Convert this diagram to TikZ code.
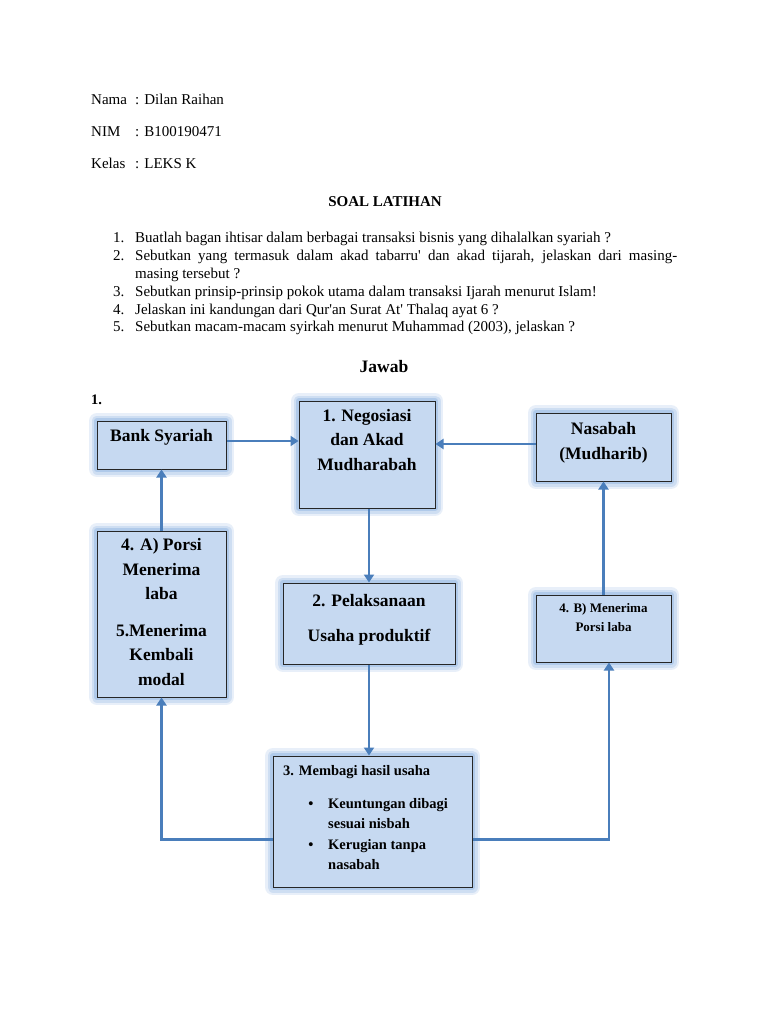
\documentclass[tikz,border=0pt]{standalone}
\usepackage{fontspec}
\setmainfont{Liberation Serif}
\newfontfamily\straightq{Liberation Serif}
\usetikzlibrary{arrows.meta,calc}
\definecolor{boxfill}{HTML}{C6D9F1}
\definecolor{arrowc}{HTML}{4A7EBB}
\definecolor{glowc}{HTML}{8DB3E2}
\tikzset{
  box/.style={draw=black!85, line width=1pt, fill=boxfill, inner sep=0pt,
    preaction={draw=glowc, line width=16pt, opacity=0.2, line join=round},
    preaction={draw=glowc, line width=11pt, opacity=0.28, line join=round},
    preaction={draw=glowc, line width=6pt, opacity=0.45, line join=round}},
  arr/.style={draw=arrowc, line width=2.8pt, -{Triangle[length=8pt,width=10pt]}},
  btxt/.style={font=\bfseries\fontsize{17.5}{24.5}\selectfont, align=center, inner sep=0pt},
  stxt/.style={font=\bfseries\fontsize{14.5}{20.5}\selectfont, inner sep=0pt},
  ntxt/.style={font=\fontsize{15}{18}\selectfont, inner sep=0pt},
}
\begin{document}
\begin{tikzpicture}[x=1pt,y=-1pt]
\useasboundingbox[fill=white] (0,0) rectangle (768,1024);

% header
\node[ntxt, anchor=base west] (nama) at (91,104.5) {Nama};
\node[ntxt, anchor=base west] (namav) at (135,104.5) {: Dilan Raihan};
\node[ntxt, anchor=base west] (nim) at (91,136.5) {NIM};
\node[ntxt, anchor=base west] (nimv) at (135,136.5) {: B100190471};
\node[ntxt, anchor=base west] (kelas) at (91,168.5) {Kelas};
\node[ntxt, anchor=base west] (kelasv) at (135,168.5) {: LEKS K};

\node[ntxt, font=\bfseries\fontsize{15}{18}\selectfont, anchor=base] (soal) at (385,207) {SOAL LATIHAN};

% list
\node[ntxt, anchor=base west] (n1) at (113,242.5) {1.};
\node[ntxt, anchor=base west] (q1) at (135,242.5) {Buatlah bagan ihtisar dalam berbagai transaksi bisnis yang dihalalkan syariah ?};
\node[ntxt, anchor=base west] (n2) at (113,260.5) {2.};
\node[ntxt, anchor=base west] (q2) at (135,260.5) {\straightq\makebox[542pt][s]{Sebutkan yang termasuk dalam akad tabarru' dan akad tijarah, jelaskan dari masing-}};
\node[ntxt, anchor=base west] (q2b) at (135,278) {masing tersebut ?};
\node[ntxt, anchor=base west] (n3) at (113,296.5) {3.};
\node[ntxt, anchor=base west] (q3) at (135,296.5) {Sebutkan prinsip-prinsip pokok utama dalam transaksi Ijarah menurut Islam!};
\node[ntxt, anchor=base west] (n4) at (113,314.5) {4.};
\node[ntxt, anchor=base west] (q4) at (135,314.5) {\straightq Jelaskan ini kandungan dari Qur'an Surat At' Thalaq ayat 6 ?};
\node[ntxt, anchor=base west] (n5) at (113,331.5) {5.};
\node[ntxt, anchor=base west] (q5) at (135,331.5) {Sebutkan macam-macam syirkah menurut Muhammad (2003), jelaskan ?};

\node[font=\bfseries\fontsize{17.5}{20}\selectfont, inner sep=0pt, anchor=base] (jawab) at (384,372) {Jawab};
\node[font=\bfseries\fontsize{14.5}{17}\selectfont, inner sep=0pt, anchor=base west] (one) at (91,404) {1.};

% boxes
\node[box, minimum width=129, minimum height=48] (bank) at (161.5,445) {};
\node[box, minimum width=136, minimum height=107] (nego) at (367,454.5) {};
\node[box, minimum width=135, minimum height=68] (nasabah) at (603.5,447) {};
\node[box, minimum width=129, minimum height=166] (porsia) at (161.5,614) {};
\node[box, minimum width=172, minimum height=81] (pelak) at (369,623.5) {};
\node[box, minimum width=135, minimum height=67] (porsib) at (603.5,628.5) {};
\node[box, minimum width=199, minimum height=131] (bagi) at (372.5,821.5) {};

% box texts
\node[btxt] (tbank) at (161.5,437) {Bank Syariah};
\node[btxt] (tnego) at (367,440) {1. Negosiasi\\dan Akad\\Mudharabah};
\node[btxt] (tnasabah) at (603.5,443) {Nasabah\\(Mudharib)};
\node[btxt] (tporsia) at (161.5,612) {4. A) Porsi\\Menerima\\laba\\[12pt]5.Menerima\\Kembali\\modal};
\node[btxt] (tpelak) at (369,620) {2. Pelaksanaan\\[11pt]Usaha produktif};
\node[btxt, font=\bfseries\fontsize{13}{19}\selectfont] (tporsib) at (603.5,617.5) {4. B) Menerima\\Porsi laba};
\node[stxt, anchor=base west] (tbagi) at (283,775) {3. Membagi hasil usaha};
\node[stxt, anchor=base] (bul1) at (311,808) {\textbullet};
\node[stxt, anchor=base west] (item1a) at (328,808) {Keuntungan dibagi};
\node[stxt, anchor=base west] (item1b) at (328,828.5) {sesuai nisbah};
\node[stxt, anchor=base] (bul2) at (311,849) {\textbullet};
\node[stxt, anchor=base west] (item2a) at (328,849) {Kerugian tanpa};
\node[stxt, anchor=base west] (item2b) at (328,869.5) {nasabah};

% connectors
\draw[arr] ([yshift=4pt]bank.east) -- ([yshift=4pt]bank.east -| nego.west);
\draw[arr] ([yshift=3pt]nasabah.west) -- ([yshift=3pt]nasabah.west -| nego.east);
\draw[arr] ([xshift=2pt]nego.south) -- ([xshift=2pt]nego.south |- pelak.north);
\draw[arr] (pelak.south) -- (pelak.south |- bagi.north);
\draw[arr] (porsia.north) -- (bank.south);
\draw[arr] (porsib.north) -- (nasabah.south);
\draw[arr] ([yshift=-18pt]bagi.west) -| (porsia.south);
\draw[arr] ([yshift=-18pt]bagi.east) -| ([xshift=5.5pt]porsib.south);
\end{tikzpicture}
\end{document}
